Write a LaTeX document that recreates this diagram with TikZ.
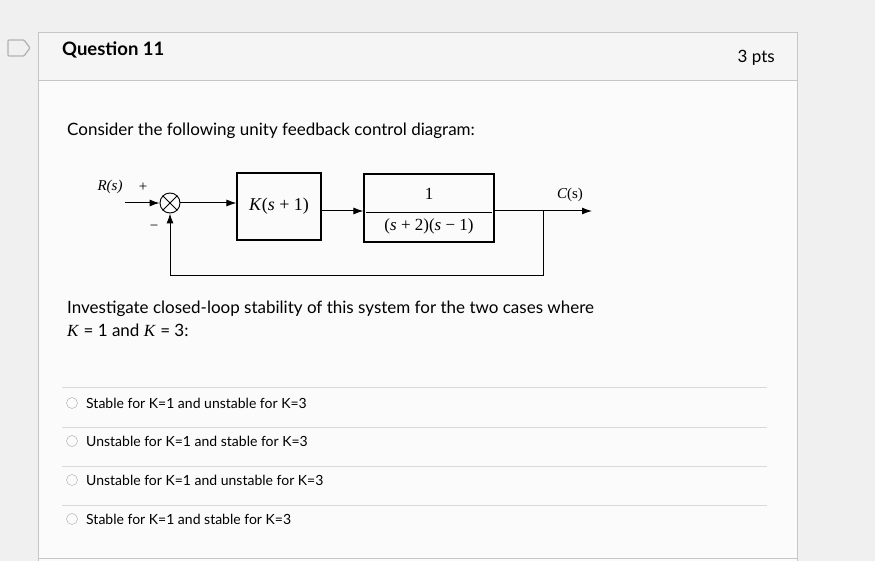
\documentclass[tikz,border=0pt]{standalone}
\usepackage{fontspec}
\setmainfont{Lato}
\newfontfamily\serf{Liberation Serif}
\usetikzlibrary{arrows.meta}
\begin{document}
\begin{tikzpicture}[x=1pt,y=-1pt,
  txt/.style={anchor=west,inner sep=0pt},
  blk/.style={draw,line width=1.2pt,inner sep=0pt},
  sig/.style={line width=1pt,-{Latex[length=10pt,width=7pt]}},
  opt/.style={anchor=west,inner sep=0pt,font=\fontsize{14}{16}\selectfont},
  radio/.style={draw=gray!70,circle,minimum size=11pt,inner sep=0pt},
  sep/.style={draw=gray!30,line width=0.8pt}]
\useasboundingbox[fill=gray!12] (0,0) rectangle (875,561);
\fill[white!97!gray] (38,32) rectangle (797,561);
\fill[gray!8] (38,32) rectangle (797,80);
\draw[gray!45,line width=0.8pt] (38,32) -- (797,32) (38,32) -- (38,561) (797,32) -- (797,561) (38,80) -- (797,80) (38,558) -- (797,558);
\draw[gray!60,line width=1.3pt,rounded corners=1pt] (8,40) -- (24,40) -- (30,48) -- (24,56) -- (8,56) -- cycle;
\node[txt,font=\fontsize{18.5}{22}\selectfont\bfseries] (q) at (62,50) {Question 11};
\node[anchor=east,inner sep=0pt,font=\fontsize{17}{20}\selectfont] (pts) at (775,58) {3 pts};
\node[txt,font=\fontsize{17}{20}\selectfont] (c) at (67,131) {Consider the following unity feedback control diagram:};
% diagram
\coordinate (rin) at (125,203);
\node[draw,circle,line width=0.9pt,minimum size=20pt,inner sep=0pt] (sum) at (170,203) {};
\draw[line width=0.9pt] (sum.north west) -- (sum.south east) (sum.north east) -- (sum.south west);
\node[blk,minimum width=84pt,minimum height=67pt] (g1) at (279,206.5) {\serf\fontsize{18}{20}\selectfont\textit{K}(\textit{s} + 1)};
\node[blk,minimum width=130pt,minimum height=68pt] (g2) at (429,208) {};
\node[inner sep=0pt] (num) at (429,194) {\serf\fontsize{17}{20}\selectfont 1};
\draw[line width=1pt] (366,213) -- (492,213);
\node[inner sep=0pt] (den) at (429,226) {\serf\fontsize{17}{20}\selectfont(\textit{s} + 2)(\textit{s} − 1)};
\coordinate (out) at (592,211);
\coordinate (br) at (543,211);
\coordinate (bl) at (543,276);
\coordinate (fl) at (170,276);
\node[inner sep=0pt,font=\serf\fontsize{15}{18}\selectfont\itshape] (R) at (110,187) {R(s)};
\node[inner sep=0pt,font=\serf\fontsize{15}{18}\selectfont] (C) at (570,195) {\textit{C}(s)};
\node[inner sep=0pt,font=\serf\fontsize{15}{18}\selectfont] (plus) at (143,187) {+};
\node[inner sep=0pt,font=\serf\fontsize{15}{18}\selectfont] (minus) at (154,228) {−};
\draw[sig] (rin) -- (sum);
\draw[sig] (sum) -- (g1.west |- sum);
\draw[sig] (g1.east |- 0,211) -- (g2.west |- 0,211);
\draw[sig] (g2.east |- 0,211) -- (out);
\draw[sig] (br) -- (bl) -- (fl) -- (sum);
\node[txt,font=\fontsize{17}{20}\selectfont] (inv) at (67,309) {Investigate closed-loop stability of this system for the two cases where};
\node[txt,font=\fontsize{17}{20}\selectfont] (inv2) at (67,330) {{\serf\textit{K}} = 1 and {\serf\textit{K}} = 3:};
\foreach \y in {387,427,466,505} \draw[sep] (62,\y) -- (767,\y);
\foreach \y/\t [count=\i] in {403/Stable for K=1 and unstable for K=3,441/Unstable for K=1 and stable for K=3,480/Unstable for K=1 and unstable for K=3,519/Stable for K=1 and stable for K=3}{
  \node[radio] (r\i) at (72,\y) {};
  \node[opt] (o\i) at (86,\y) {\t};
}
\end{tikzpicture}
\end{document}
